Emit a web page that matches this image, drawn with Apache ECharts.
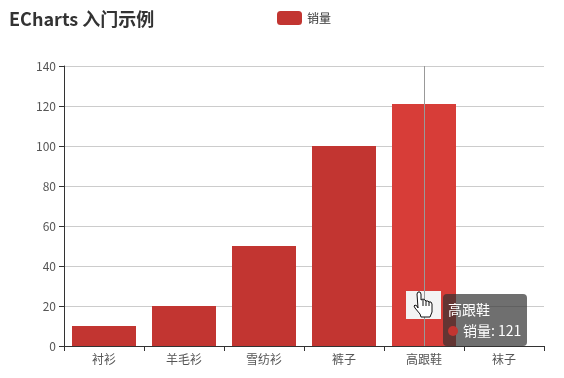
<!DOCTYPE html>
<html><head><meta charset="utf-8">
<style>html,body{margin:0;padding:0;background:#fff}#main{width:564px;height:378px}</style>
<script src="https://cdn.jsdelivr.net/npm/echarts@6/dist/echarts.min.js"></script>
</head><body><div id="main"></div>
<script>
const categories = ['衬衫','羊毛衫','雪纺衫','裤子','高跟鞋','袜子'];
const sales = [10,20,50,100,121,0];
const yTicks = {min:0,max:140,interval:20};
const font = '"Noto Sans CJK SC","Noto Sans",sans-serif';
const chart = echarts.init(document.getElementById('main'),null,{renderer:'canvas'});
chart.setOption({
  animation:false,
  textStyle:{fontFamily:font},
  title:{text:'ECharts 入门示例',left:4,top:5,textStyle:{fontFamily:font,fontSize:18,fontWeight:'bold',color:'#333'}},
  legend:{data:['销量'],top:6,left:272,itemWidth:25,itemHeight:14,itemGap:10,textStyle:{fontFamily:font,fontSize:12,color:'#333'},icon:'roundRect'},
  grid:{left:64,right:20,top:66,bottom:32,containLabel:false},
  tooltip:{show:true,trigger:'axis',alwaysShowContent:true,transitionDuration:0,
    backgroundColor:'rgba(50,50,50,0.7)',borderWidth:0,padding:5,extraCssText:'box-shadow:none;border-radius:4px;',
    textStyle:{color:'#fff',fontSize:14,fontFamily:font},
    axisPointer:{type:'line',snap:true,lineStyle:{color:'#999',width:1,type:'solid'},animation:false},
    position:function(){return [443,294];},
    formatter:function(p){const d=p[0];return '<div style="line-height:21px;width:74px">'+d.name+'<br><span style="display:inline-block;width:10px;height:10px;border-radius:5px;background:#c23531;margin-right:5px"></span>'+d.seriesName+': '+d.value+'</div>';}
  },
  xAxis:{type:'category',data:categories,axisLine:{show:true,lineStyle:{color:'#333'}},axisTick:{show:true,length:5,alignWithLabel:false,lineStyle:{color:'#333'}},axisLabel:{color:'#555',fontSize:12,margin:7,interval:0},splitLine:{show:false}},
  yAxis:{type:'value',min:yTicks.min,max:yTicks.max,interval:yTicks.interval,axisLine:{show:true,lineStyle:{color:'#333'}},axisTick:{show:true,length:5,lineStyle:{color:'#333'}},axisLabel:{color:'#555',fontSize:12,margin:8},splitLine:{show:true,lineStyle:{color:'#ccc'}}},
  series:[{name:'销量',type:'bar',data:sales,barCategoryGap:'20%',itemStyle:{color:'#c23531'},emphasis:{itemStyle:{color:'#d73d38'}}}],
  graphic:{elements:[{type:'group',left:406,top:291,width:35,height:28,bounding:'raw',z:50,silent:true,children:[
    {type:'rect',z:50,shape:{x:0,y:0,width:35,height:28},style:{fill:'#f3f3f3'}},
    {type:'polygon',z:51,shape:{points:[[11,3],[12,1],[14,1],[15,3],[15,9],[17,8],[19,9],[20,10],[22,10],[23,11],[25,11],[26,13],[26,21],[24,26],[15,26],[14,23],[9,17],[8,15],[9,14],[11,15],[12,17]]},style:{fill:'#fff',stroke:'#111',lineWidth:1}},
    {type:'line',z:52,shape:{x1:17,y1:9,x2:17,y2:15},style:{stroke:'#111',lineWidth:1}},
    {type:'line',z:52,shape:{x1:20,y1:10,x2:20,y2:15},style:{stroke:'#111',lineWidth:1}},
    {type:'line',z:52,shape:{x1:23,y1:11,x2:23,y2:15},style:{stroke:'#111',lineWidth:1}}
  ]}]}
});
chart.dispatchAction({type:'showTip',seriesIndex:0,dataIndex:4});
chart.dispatchAction({type:'highlight',seriesIndex:0,dataIndex:4});
</script></body></html>
